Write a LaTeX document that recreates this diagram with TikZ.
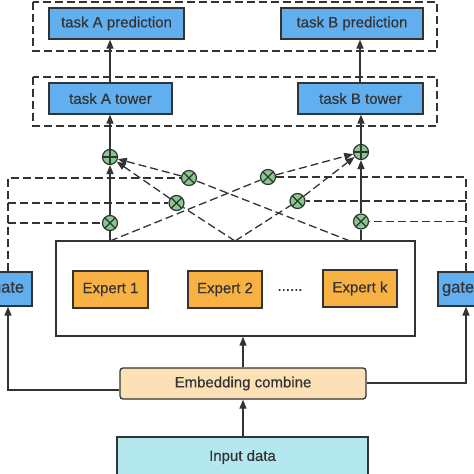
\documentclass[tikz,border=0pt]{standalone}
\usepackage{fontspec}
\setmainfont{Liberation Sans}
\newfontfamily\lblfont[FakeBold=0.4]{Liberation Sans}
\usetikzlibrary{arrows.meta}
\definecolor{ink}{HTML}{333333}
\definecolor{blu}{HTML}{62AFEF}
\definecolor{org}{HTML}{F8B143}
\definecolor{peach}{HTML}{FCE0B6}
\definecolor{cyanish}{HTML}{B3E8EF}
\definecolor{grn}{HTML}{86C98C}
\tikzset{
  box/.style={draw=ink,line width=1.3pt,fill=blu,inner sep=0pt,font=\lblfont\fontsize{15}{18}\selectfont,text=ink},
  boxo/.style={box,fill=org},
  boxe/.style={box,fill=peach,rounded corners=3pt},
  boxi/.style={box,fill=cyanish},
  gatebox/.style={box,font=\lblfont\fontsize{16.5}{19}\selectfont},
  frame/.style={draw=ink,line width=1.3pt,fill=white},
  grp/.style={draw=ink,line width=1.3pt,dash pattern=on 8pt off 4pt},
  ar/.style={-{Triangle[length=9pt,width=7pt]},draw=ink,line width=1.3pt},
  ard/.style={ar,dash pattern=on 8pt off 4pt},
  ln/.style={draw=ink,line width=1.3pt},
  dl/.style={draw=ink,line width=1.3pt,dash pattern=on 8pt off 4pt},
  gsum/.style={circle,draw=ink,line width=1.2pt,fill=grn,minimum size=15pt,inner sep=0pt,
    path picture={\draw[ink,line width=1.1pt] (path picture bounding box.north) -- (path picture bounding box.south)
      (path picture bounding box.west) -- (path picture bounding box.east);}},
  gmul/.style={gsum,path picture={\draw[ink,line width=1.1pt] (path picture bounding box.north west) -- (path picture bounding box.south east)
      (path picture bounding box.north east) -- (path picture bounding box.south west);}},
}
\begin{document}
\begin{tikzpicture}[x=1pt,y=-1pt]
  \useasboundingbox (0,0) rectangle (474,474);
  \clip (0,0) rectangle (474,474);
  % task groups
  \draw[grp] (33,2) rectangle (437,51);
  \draw[grp] (33,77) rectangle (437,126);
  \node[box,minimum width=135pt,minimum height=31pt] (predA) at (116.5,23.5) {task A prediction};
  \node[box,minimum width=142pt,minimum height=31pt] (predB) at (352,23.5) {task B prediction};
  \node[box,minimum width=123pt,minimum height=31pt] (towA) at (110.5,98.5) {task A tower};
  \node[box,minimum width=125pt,minimum height=31pt] (towB) at (360.5,98.5) {task B tower};
  \draw[ar] (towA.north -| 110,0) -- (predA.south -| 110,0);
  \draw[ar] (towB.north -| 360,0) -- (predB.south -| 360,0);
  % experts
  \node[frame,minimum width=359pt,minimum height=95pt] (exp) at (235.5,288.5) {};
  \node[boxo,minimum width=75pt,minimum height=37pt] (e1) at (110.5,289.5) {Expert 1};
  \node[boxo,minimum width=74pt,minimum height=37pt] (e2) at (225,289.5) {Expert 2};
  \node[boxo,minimum width=74pt,minimum height=37pt] (ek) at (360,288.5) {Expert k};
  \node[font=\lblfont\fontsize{15}{18}\selectfont,text=ink] (dots) at (290,290) {......};
  \coordinate (o1) at (110,241);
  \coordinate (o2) at (235,241);
  \coordinate (o3) at (350,241);
  \coordinate (o4) at (361,241);
  % gating
  \node[gsum] (sA) at (110,157) {};
  \node[gsum] (sB) at (361,152) {};
  \node[gmul] (mA) at (110,223) {};
  \node[gmul] (m1) at (189,178) {};
  \node[gmul] (m2) at (176.5,203) {};
  \node[gmul] (m3) at (268,177) {};
  \node[gmul] (m4) at (297.5,201) {};
  \node[gmul] (mB) at (361,221.5) {};
  \draw[ln] (o1) -- (mA);
  \draw[ln] (o4) -- (mB);
  \draw[ar] (mA) -- (sA);
  \draw[ar] (mB) -- (sB);
  \draw[ar] (sA) -- (sA |- towA.south);
  \draw[ar] (sB) -- (sB |- towB.south);
  \draw[dl] (o3) -- (m1); \draw[ard] (m1) -- (sA);
  \draw[dl] (o2) -- (m2); \draw[ard] (m2) -- (sA);
  \draw[dl] (o1) -- (m3); \draw[ard] (m3) -- (sB);
  \draw[dl] (o2) -- (m4); \draw[ard] (m4) -- (sB);
  % gates
  \node[gatebox,minimum width=48pt,minimum height=34pt] (gL) at (8,289) {gate};
  \node[gatebox,text width=48pt,align=left,inner xsep=4pt,minimum height=34pt] (gR) at (466,289) {gate};
  \draw[dl] (gL.north) -- (gL.north |- m1) -- (m1.west);
  \draw[dl] (gL.north |- m2) -- (m2.west);
  \draw[dl] (gL.north |- mA) -- (mA.west);
  \draw[dl] (gR.north) -- (gR.north |- m3) -- (m3.east);
  \draw[dl] (gR.north |- m4) -- (m4.east);
  \draw[dl] (gR.north |- mB) -- (mB.east);
  % input
  \node[boxe,minimum width=246pt,minimum height=31pt] (emb) at (243,383.5) {Embedding combine};
  \node[boxi,minimum width=251pt,minimum height=40pt] (inp) at (242.5,457) {Input data};
  \draw[ar] (inp.north -| 243,0) -- (emb.south -| 243,0);
  \draw[ar] (emb.north -| 243,0) -- (exp.south -| 243,0);
  \draw[ar] (emb.west |- 0,390) -| (gL.south);
  \draw[ar] (emb.east |- 0,383) -| (gR.south);
\end{tikzpicture}
\end{document}
